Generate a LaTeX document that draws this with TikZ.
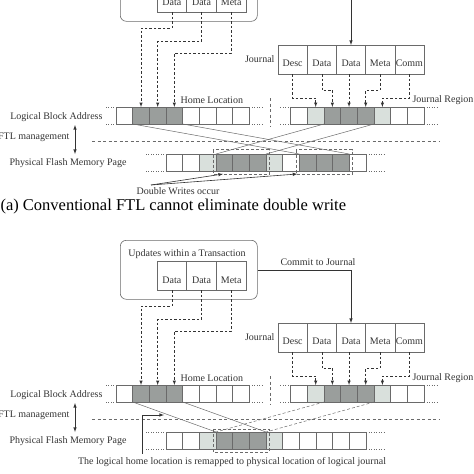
\documentclass[tikz,border=0pt]{standalone}
\usepackage{fontspec}
\setmainfont{Liberation Serif}
\usetikzlibrary{calc}
\usetikzlibrary{arrows}

\definecolor{boxline}{HTML}{6A6A6A}
\definecolor{darkcell}{HTML}{9A9E9C}
\definecolor{lightcell}{HTML}{D9E0DC}
\definecolor{inkgray}{HTML}{333333}

\tikzset{
  cell/.style={draw=boxline, line width=0.6pt, minimum width=16.67pt,
    minimum height=17pt, inner sep=0pt, outer sep=0pt, anchor=north west},
  tbox/.style={draw=boxline, line width=0.6pt, minimum width=29.2pt,
    minimum height=29pt, inner sep=0pt, outer sep=0pt, anchor=north west,
    text height=14pt, text depth=0pt},
  dasharrow/.style={draw=inkgray, line width=0.5pt, dash pattern=on 2.5pt off 2pt, -latex},
  solidarrow/.style={draw=inkgray, line width=0.6pt, -latex},
  dashline/.style={draw=boxline, line width=0.6pt, dash pattern=on 3pt off 2.5pt},
  dotline/.style={draw=boxline, line width=0.5pt, dash pattern=on 0.5pt off 2pt},
  mapline/.style={draw=boxline, line width=0.5pt},
  mapdash/.style={draw=boxline, line width=0.5pt, dash pattern=on 3pt off 2pt}
}

% one row of cells: prefix, x, y, fills
\newcommand\cellrow[4]{%
  \foreach \c [count=\i from 0] in {#4}
    \node[cell, fill=\c] (#1\i) at ({#2+16.67*\i}, #3) {};
}

% what both halves share
\newcommand\ftlpart{%
  \node[draw=boxline, line width=0.6pt, rounded corners=6pt, minimum width=137pt,
    minimum height=59pt, anchor=north west] (trans) at (120,240) {};
  \foreach \n/\t [count=\i from 0] in {ud1/Data,ud2/Data,um/Meta}
    \node[tbox, minimum width=29.67pt, text height=15pt] (\n) at ({157+29.67*\i},261) {\t};
  \foreach \n/\t [count=\i from 0] in {jdesc/Desc,jd1/Data,jd2/Data,jmeta/Meta,jcomm/Comm}
    \node[tbox] (\n) at ({278+29.2*\i},323) {\t};
  \node[anchor=east] (jrnl) at (jdesc.west) {Journal};
  \draw[solidarrow] (trans.east) -| (jd2.north);
  % logical block address rows
  \cellrow{la}{116}{385}{white,darkcell,darkcell,darkcell,white,white,white,white}
  \cellrow{lb}{290.7}{385}{white,lightcell,darkcell,darkcell,darkcell,lightcell,white,white}
  \foreach \r in {la,lb} {
    \draw[dotline] (\r0.north west) -- ++(-11,0);
    \draw[dotline] (\r0.south west) -- ++(-11,0);
    \draw[dotline] (\r7.north east) -- ++(13,0);
    \draw[dotline] (\r7.south east) -- ++(13,0);
  }
  \draw[dashline] (270,376) -- (270,405);
  % updates to home location
  \draw[dasharrow] (ud1.south) -- ++(0,16) -| (la1.north);
  \draw[dasharrow] (ud2.south) -- ++(0,29) -| (la2.north);
  \draw[dasharrow] (um.south) -- ++(0,41) -| (la3.north);
  % journal to journal region
  \draw[dasharrow] (jdesc.south) -- ++(0,24) -| (lb1.north);
  \draw[dasharrow] (jd1.south) -- ++(0,16) -| (lb2.north);
  \draw[dasharrow] (jd2.south -| lb3.north) -- (lb3.north);
  \draw[dasharrow] (jmeta.south) -- ++(0,16) -| (lb4.north);
  \draw[dasharrow] (jcomm.south) -- ++(0,24) -| (lb5.north);
  \node[anchor=west] (home) at (177,378) {Home Location};
  \node[anchor=west] (jreg) at (409,378) {Journal Region};
  \node[anchor=east] (lbal) at (106,395) {Logical Block Address};
  \node[anchor=east] (ftll) at (73,415) {FTL management};
  \node[anchor=east] (pfml) at (130,441) {Physical Flash Memory Page};
  \coordinate (ftltop) at (75,403);
  \coordinate (ftlbot) at (75,432);
  \draw[solidarrow, latex-latex] (ftltop) -- (ftlbot);
  \draw[dashline] (92,419) -- (440,419);
}

% physical row dots
\newcommand\physdots{%
  \draw[dotline] (pb0.north west) -- ++(-21,0);
  \draw[dotline] (pb0.south west) -- ++(-21,0);
  \draw[dotline] (pb11.north east) -- ++(19,0);
  \draw[dotline] (pb11.south east) -- ++(19,0);
}

\begin{document}
\begin{tikzpicture}[x=1pt, y=-1pt, font=\fontsize{10}{12}\selectfont, text=inkgray]
  \useasboundingbox (0,0) rectangle (474,474);
  \clip (0,0) rectangle (474,474);

  % (b) home location remapped
  \begin{scope}[name prefix=b-]
    \ftlpart
    \node (title) at (187,254) {Updates within a Transaction};
    \node (commit) at (318,262) {Commit to Journal};
    \cellrow{pb}{166}{432}{white,white,lightcell,darkcell,darkcell,darkcell,lightcell,white,white,white,white,white}
    \physdots
    \draw[mapline] (la1.south west) -- (pb3.north west);
    \draw[mapline] (la3.south east) -- (pb5.north east);
    \draw[mapdash] (lb2.south west) -- (pb3.north west);
    \draw[mapdash] (lb5.south west) -- (pb6.north west);
    \draw[mapdash] ($(pb3.north west)+(-3,-3)$) rectangle ($(pb5.south east)+(3,3)$);
    \node (remaptxt) at (232,462) {The logical home location is remapped to physical location of logical journal};
    \coordinate (remapbend) at (142,415);
    \coordinate (remapend) at (164,415);
    \draw[solidarrow] (remapbend |- remaptxt.north) -- (remapbend) -- (remapend);
  \end{scope}

  % (a) conventional FTL
  \begin{scope}[name prefix=a-, yshift=278pt]
    \ftlpart
    \cellrow{pb}{166}{432}{white,white,lightcell,darkcell,darkcell,darkcell,lightcell,white,darkcell,darkcell,darkcell,white}
    \physdots
    \draw[mapline] (la1.south west) -- (pb8.north west);
    \draw[mapline] (la3.south east) -- (pb10.north east);
    \draw[mapline] (lb2.south west) -- (pb3.north west);
    \draw[mapline] (lb5.south west) -- (pb6.north west);
    \coordinate (dw1a) at ($(pb3.north west)+(-3,-4.5)$);
    \coordinate (dw1b) at ($(pb5.south east)+(3,3)$);
    \coordinate (dw2a) at ($(pb8.north west)+(-3,-4.5)$);
    \coordinate (dw2b) at ($(pb10.south east)+(3,3)$);
    \draw[mapdash] (dw1a) rectangle (dw1b);
    \draw[mapdash] (dw2a) rectangle (dw2b);
    \node (dwtxt) at (178,468.7) {Double Writes occur};
    \coordinate (dwfrom) at (151,463);
    \draw[solidarrow] (dwfrom) -- ($(dw1a |- dw1b)+(10,0)$);
    \draw[solidarrow] (dwfrom) -- ($(dw2a |- dw2b)+(1,0)$);
    \node[anchor=west, font=\fontsize{16.5}{20}\selectfont, text=black] (capa) at (-3,485)
      {(a) Conventional FTL cannot eliminate double write};
  \end{scope}
\end{tikzpicture}
\end{document}
